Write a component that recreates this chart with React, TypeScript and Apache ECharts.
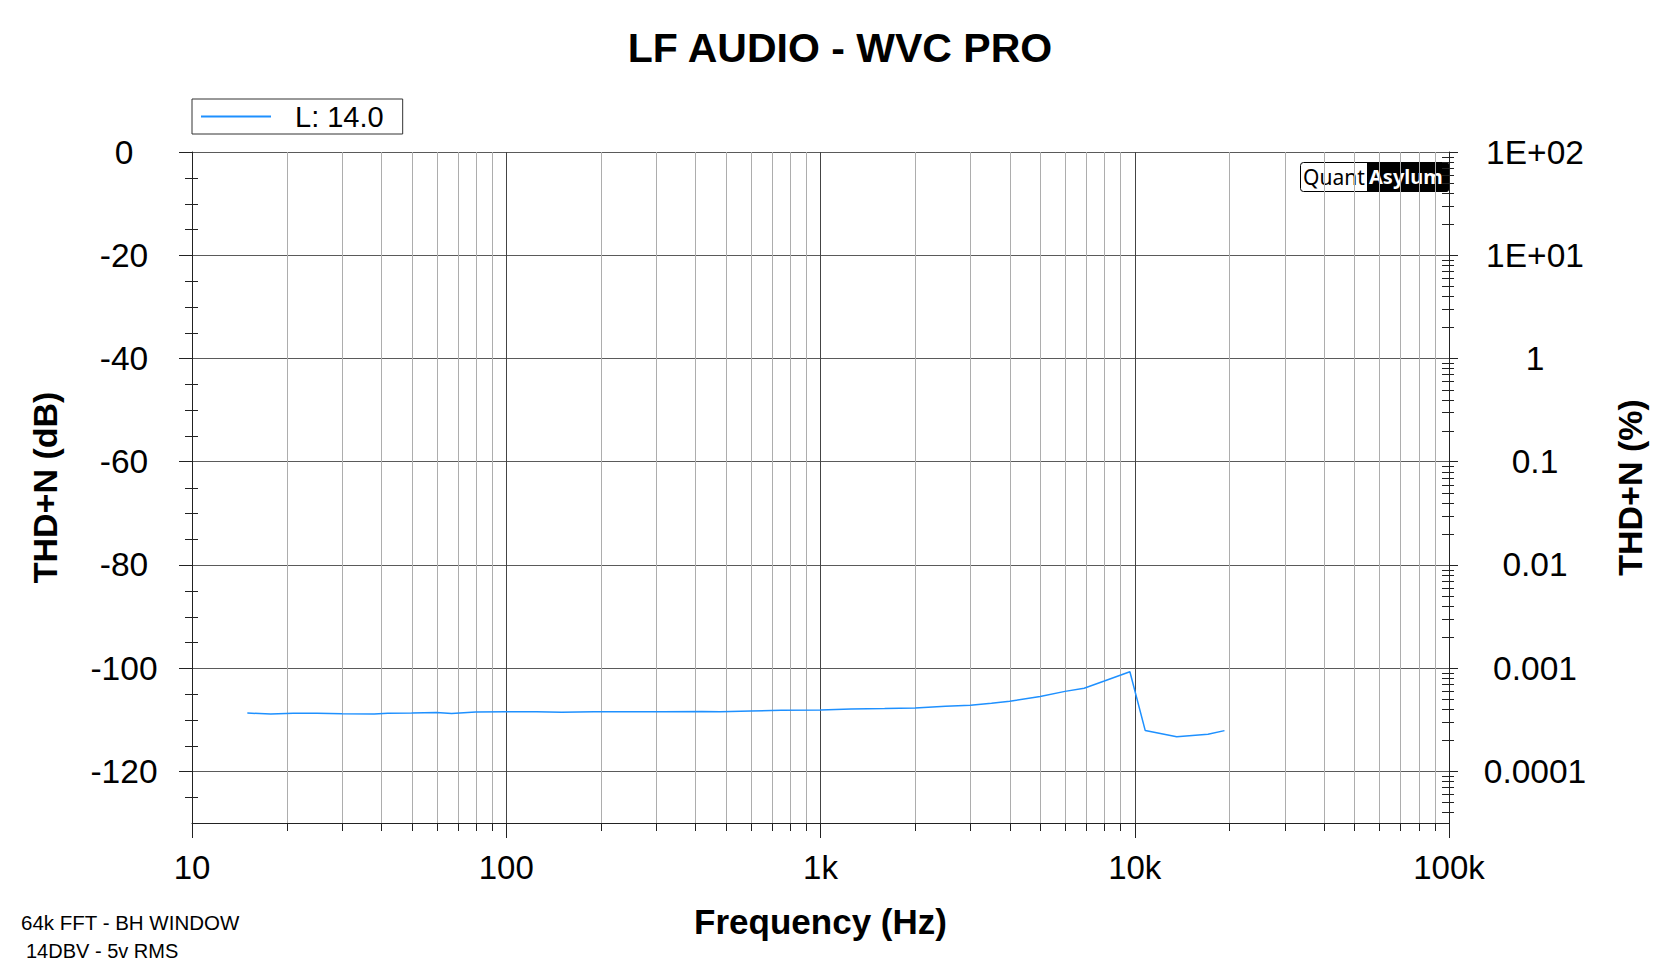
import React, { useEffect, useRef } from "react";
import * as echarts from "echarts";

const FONT = '"Liberation Sans", Arial, Helvetica, sans-serif';
const LOGO_FONT = '"Noto Sans", "Open Sans", sans-serif';
const LINE_COLOR = "#1E90FF";

const CHART_TITLE = "LF AUDIO - WVC PRO";
const SERIES_NAME = "L: 14.0";
const X_AXIS_NAME = "Frequency (Hz)";
const Y_LEFT_NAME = "THD+N (dB)";
const Y_RIGHT_NAME = "THD+N (%)";
const NOTES = ["64k FFT - BH WINDOW", "14DBV - 5v RMS"];
const LOGO_LEFT = "Quant";
const LOGO_RIGHT = "Asylum";

// measured curve
const FREQ_HZ = [
  15, 17.8, 21, 25, 30, 38, 42, 50, 60, 67, 80, 100, 125, 150, 190, 250, 315, 420, 480, 600,
  750, 1000, 1250, 1600, 2000, 2500, 3000, 3500, 4000, 5000, 6000, 6900, 8000, 9650, 10800,
  13600, 17100, 19300,
];
const THD_DB = [
  -108.7, -108.9, -108.75, -108.75, -108.85, -108.9, -108.75, -108.7, -108.6, -108.8, -108.5,
  -108.45, -108.45, -108.55, -108.45, -108.45, -108.45, -108.4, -108.45, -108.3, -108.15, -108.1,
  -107.9, -107.8, -107.7, -107.4, -107.2, -106.8, -106.4, -105.5, -104.5, -103.9, -102.5, -100.7,
  -112.1, -113.3, -112.8, -112.1,
];

// axes
const X_MIN = 10;
const X_MAX = 100000;
const X_MAJOR = [10, 100, 1000, 10000, 100000];
const X_LABELS = ["10", "100", "1k", "10k", "100k"];
const X_DECADES = [10, 100, 1000, 10000];
const MINOR_MULT = [2, 3, 4, 5, 6, 7, 8, 9];

const DB_MIN = -130;
const DB_MAX = 0;
const DB_MAJOR = [-120, -100, -80, -60, -40, -20, 0];
const PCT_LABELS = ["0.0001", "0.001", "0.01", "0.1", "1", "1E+01", "1E+02"];
const DB_MINOR = [
  -125, -115, -110, -105, -95, -90, -85, -75, -70, -65, -55, -50, -45, -35, -30, -25, -15, -10, -5,
];
const PCT_DECADES = [1e-5, 1e-4, 1e-3, 1e-2, 1e-1, 1, 10];

const X_MINOR = X_DECADES.flatMap((d) => MINOR_MULT.map((m) => m * d));
const PCT_MINOR_DB = PCT_DECADES.flatMap((b) =>
  MINOR_MULT.map((m) => 20 * Math.log10((m * b) / 100))
).filter((d) => d > DB_MIN && d < DB_MAX);

const GRID_LEFT = 192;
const GRID_TOP = 152;
const GRID_W = 1257;
const GRID_H = 671;

function buildOption() {
  const crisp = (v: number) => Math.round(v) + 0.5;

  const minorVertical = (_p: any, api: any) => {
    const f = api.value(0);
    const top = api.coord([f, DB_MAX]);
    const bot = api.coord([f, DB_MIN]);
    const x = crisp(top[0]);
    return {
      type: "group",
      children: [
        { type: "line", shape: { x1: x, y1: top[1], x2: x, y2: bot[1] }, style: { stroke: "#adadad", lineWidth: 1 } },
        { type: "line", shape: { x1: x, y1: bot[1], x2: x, y2: bot[1] + 8 }, style: { stroke: "#222", lineWidth: 1 } },
      ],
    };
  };
  const leftMinor = (_p: any, api: any) => {
    const p = api.coord([X_MIN, api.value(1)]);
    const y = crisp(p[1]);
    return { type: "line", shape: { x1: p[0] - 7, y1: y, x2: p[0] + 6, y2: y }, style: { stroke: "#222", lineWidth: 1 } };
  };
  const rightMinor = (_p: any, api: any) => {
    const p = api.coord([X_MAX, api.value(1)]);
    const y = crisp(p[1]);
    return { type: "line", shape: { x1: p[0] - 7, y1: y, x2: p[0] + 5, y2: y }, style: { stroke: "#222", lineWidth: 1 } };
  };

  return {
    animation: false,
    backgroundColor: "#ffffff",
    textStyle: { fontFamily: FONT },
    title: {
      text: CHART_TITLE,
      left: "center",
      top: 27,
      padding: 0,
      textStyle: { fontSize: 41, fontWeight: "bold", color: "#000", fontFamily: FONT },
    },
    legend: {
      data: [SERIES_NAME],
      left: GRID_LEFT,
      top: 99,
      orient: "horizontal",
      icon: "rect",
      itemWidth: 70,
      itemHeight: 2,
      itemStyle: { color: LINE_COLOR, borderWidth: 0 },
      borderColor: "#333",
      borderWidth: 1,
      borderRadius: 0,
      padding: [3, 19, 3, 9],
      textStyle: { fontSize: 29, color: "#000", fontFamily: FONT, padding: [0, 0, 0, 19] },
    },
    grid: {
      left: GRID_LEFT,
      top: GRID_TOP,
      width: GRID_W,
      height: GRID_H,
      containLabel: false,
      outerBoundsMode: "none",
    },
    xAxis: {
      type: "log",
      logBase: 10,
      min: X_MIN,
      max: X_MAX,
      name: X_AXIS_NAME,
      nameLocation: "middle",
      nameGap: 81,
      nameMoveOverlap: false,
      nameTextStyle: { fontSize: 35, fontWeight: "bold", color: "#000", fontFamily: FONT },
      axisLine: { show: true, onZero: false, lineStyle: { color: "#222", width: 1 } },
      axisTick: { show: true, length: 15, inside: false, lineStyle: { color: "#222", width: 1 } },
      axisLabel: {
        fontSize: 33,
        color: "#000",
        fontFamily: FONT,
        margin: 28,
        formatter: (v: number) => {
          const i = X_MAJOR.findIndex((m) => Math.abs(Math.log10(m) - Math.log10(v)) < 1e-6);
          return i >= 0 ? X_LABELS[i] : "";
        },
      },
      splitLine: { show: true, lineStyle: { color: "#444", width: 1 } },
      minorTick: { show: false },
      minorSplitLine: { show: false },
    },
    yAxis: [
      {
        type: "value",
        position: "left",
        min: DB_MIN,
        max: DB_MAX,
        name: Y_LEFT_NAME,
        nameLocation: "middle",
        nameRotate: 90,
        nameGap: 130,
        nameMoveOverlap: false,
        nameTextStyle: { fontSize: 34, fontWeight: "bold", color: "#000", fontFamily: FONT },
        axisLine: { show: true, onZero: false, lineStyle: { color: "#222", width: 1 } },
        axisTick: { show: true, length: 13, customValues: DB_MAJOR, lineStyle: { color: "#222" } },
        axisLabel: {
          customValues: DB_MAJOR,
          fontSize: 33.5,
          color: "#000",
          fontFamily: FONT,
          margin: 68,
          align: "center",
          formatter: (v: number) => (DB_MAJOR.indexOf(v) >= 0 ? String(v) : ""),
        },
        splitLine: { show: true, lineStyle: { color: "#5a5a5a", width: 1 } },
      },
      {
        type: "value",
        position: "right",
        min: DB_MIN,
        max: DB_MAX,
        name: Y_RIGHT_NAME,
        nameLocation: "middle",
        nameRotate: 90,
        nameGap: 164,
        nameMoveOverlap: false,
        nameTextStyle: { fontSize: 34, fontWeight: "bold", color: "#000", fontFamily: FONT },
        axisLine: { show: true, onZero: false, lineStyle: { color: "#222", width: 1 } },
        axisTick: { show: true, length: 9, customValues: DB_MAJOR, lineStyle: { color: "#222" } },
        axisLabel: {
          customValues: DB_MAJOR,
          fontSize: 33.5,
          color: "#000",
          fontFamily: FONT,
          margin: 86,
          align: "center",
          formatter: (v: number) => {
            const i = DB_MAJOR.indexOf(v);
            return i >= 0 ? PCT_LABELS[i] : "";
          },
        },
        splitLine: { show: false },
      },
    ],
    series: [
      {
        type: "custom",
        name: "minorX",
        silent: true,
        clip: false,
        coordinateSystem: "cartesian2d",
        xAxisIndex: 0,
        yAxisIndex: 0,
        z: 1,
        encode: { x: 0, y: 1 },
        data: X_MINOR.map((f) => [f, DB_MIN]),
        renderItem: minorVertical,
      },
      {
        type: "custom",
        name: "minorLeft",
        silent: true,
        clip: false,
        coordinateSystem: "cartesian2d",
        xAxisIndex: 0,
        yAxisIndex: 0,
        z: 1,
        encode: { x: 0, y: 1 },
        data: DB_MINOR.map((d) => [X_MIN, d]),
        renderItem: leftMinor,
      },
      {
        type: "custom",
        name: "minorRight",
        silent: true,
        clip: false,
        coordinateSystem: "cartesian2d",
        xAxisIndex: 0,
        yAxisIndex: 0,
        z: 1,
        encode: { x: 0, y: 1 },
        data: PCT_MINOR_DB.map((d) => [X_MAX, d]),
        renderItem: rightMinor,
      },
      {
        type: "line",
        name: SERIES_NAME,
        xAxisIndex: 0,
        yAxisIndex: 0,
        z: 5,
        symbol: "none",
        showSymbol: false,
        smooth: false,
        lineStyle: { color: LINE_COLOR, width: 1.5 },
        itemStyle: { color: LINE_COLOR },
        data: FREQ_HZ.map((f, i) => [f, THD_DB[i]]),
      },
    ],
    graphic: [
      {
        type: "group",
        x: 1300,
        y: 162,
        z: 10,
        children: [
          { type: "rect", shape: { x: 0.5, y: 0.5, width: 148, height: 29, r: 3 }, style: { fill: "#fff", stroke: "#000", lineWidth: 1 } },
          { type: "rect", shape: { x: 67, y: 0, width: 82, height: 30, r: [0, 3, 3, 0] }, style: { fill: "#000" } },
          {
            type: "text",
            x: 3,
            y: 14.5,
            style: { text: LOGO_LEFT, fontSize: 21, fontFamily: LOGO_FONT, fill: "#000", verticalAlign: "middle" },
          },
          {
            type: "text",
            x: 69,
            y: 14.5,
            style: { text: LOGO_RIGHT, fontSize: 20, fontWeight: "bold", fontFamily: LOGO_FONT, fill: "#fff", verticalAlign: "middle" },
          },
        ],
      },
      {
        type: "text",
        x: 21,
        y: 922,
        style: { text: NOTES[0], fontSize: 20.5, fontFamily: FONT, fill: "#000", verticalAlign: "middle" },
      },
      {
        type: "text",
        x: 26,
        y: 951,
        style: { text: NOTES[1], fontSize: 20, fontFamily: FONT, fill: "#000", verticalAlign: "middle" },
      },
    ],
  };
}

export default function App() {
  const ref = useRef<HTMLDivElement>(null);
  useEffect(() => {
    if (!ref.current) return;
    const chart = echarts.init(ref.current, null, { renderer: "svg" });
    chart.setOption(buildOption() as any);
    return () => {
      chart.dispose();
    };
  }, []);
  return (
    <div
      ref={ref}
      style={{ position: "fixed", left: 0, top: 0, width: 1680, height: 973, background: "#fff" }}
    />
  );
}
